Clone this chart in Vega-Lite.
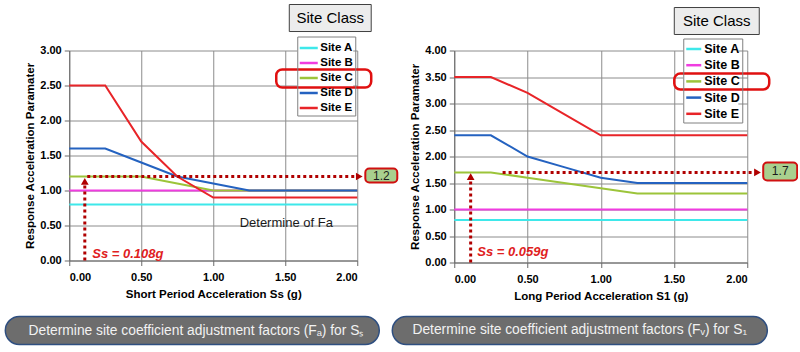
{
  "$schema": "https://vega.github.io/schema/vega-lite/v6.json",
  "padding": {"left": 4.25, "top": 3.5, "right": 0, "bottom": 0},
  "bounds": "flush",
  "spacing": 97,
  "datasets": {
    "fa": [
      {"site": "Site A", "x": 0, "y": 0.8}, {"site": "Site A", "x": 2, "y": 0.8},
      {"site": "Site B", "x": 0, "y": 1.0}, {"site": "Site B", "x": 2, "y": 1.0},
      {"site": "Site C", "x": 0, "y": 1.2}, {"site": "Site C", "x": 0.25, "y": 1.2}, {"site": "Site C", "x": 0.5, "y": 1.2}, {"site": "Site C", "x": 0.75, "y": 1.1}, {"site": "Site C", "x": 1.0, "y": 1.0}, {"site": "Site C", "x": 1.25, "y": 1.0}, {"site": "Site C", "x": 2, "y": 1.0},
      {"site": "Site D", "x": 0, "y": 1.6}, {"site": "Site D", "x": 0.25, "y": 1.6}, {"site": "Site D", "x": 0.5, "y": 1.4}, {"site": "Site D", "x": 0.75, "y": 1.2}, {"site": "Site D", "x": 1.0, "y": 1.1}, {"site": "Site D", "x": 1.25, "y": 1.0}, {"site": "Site D", "x": 2, "y": 1.0},
      {"site": "Site E", "x": 0, "y": 2.5}, {"site": "Site E", "x": 0.25, "y": 2.5}, {"site": "Site E", "x": 0.5, "y": 1.7}, {"site": "Site E", "x": 0.75, "y": 1.2}, {"site": "Site E", "x": 1.0, "y": 0.9}, {"site": "Site E", "x": 1.25, "y": 0.9}, {"site": "Site E", "x": 2, "y": 0.9}
    ],
    "fv": [
      {"site": "Site A", "x": 0, "y": 0.8}, {"site": "Site A", "x": 2, "y": 0.8},
      {"site": "Site B", "x": 0, "y": 1.0}, {"site": "Site B", "x": 2, "y": 1.0},
      {"site": "Site C", "x": 0, "y": 1.7}, {"site": "Site C", "x": 0.25, "y": 1.7}, {"site": "Site C", "x": 0.5, "y": 1.6}, {"site": "Site C", "x": 0.75, "y": 1.5}, {"site": "Site C", "x": 1.0, "y": 1.4}, {"site": "Site C", "x": 1.25, "y": 1.3}, {"site": "Site C", "x": 2, "y": 1.3},
      {"site": "Site D", "x": 0, "y": 2.4}, {"site": "Site D", "x": 0.25, "y": 2.4}, {"site": "Site D", "x": 0.5, "y": 2.0}, {"site": "Site D", "x": 0.75, "y": 1.8}, {"site": "Site D", "x": 1.0, "y": 1.6}, {"site": "Site D", "x": 1.25, "y": 1.5}, {"site": "Site D", "x": 2, "y": 1.5},
      {"site": "Site E", "x": 0, "y": 3.5}, {"site": "Site E", "x": 0.25, "y": 3.5}, {"site": "Site E", "x": 0.5, "y": 3.2}, {"site": "Site E", "x": 0.75, "y": 2.8}, {"site": "Site E", "x": 1.0, "y": 2.4}, {"site": "Site E", "x": 1.25, "y": 2.4}, {"site": "Site E", "x": 2, "y": 2.4}
    ]
  },
  "resolve": {"scale": {"color": "independent"}, "legend": {"color": "independent"}},
  "hconcat": [
    {
      "width": 288,
      "height": 210,
      "encoding": {
        "x": {"field": "x", "type": "quantitative", "scale": {"domain": [0, 2], "nice": false, "zero": false},
              "axis": {"title": "Short Period Acceleration Ss (g)", "values": [0, 0.5, 1, 1.5, 2], "format": ".2f"}},
        "y": {"field": "y", "type": "quantitative", "scale": {"domain": [0, 3], "nice": false, "zero": false},
              "axis": {"title": "Response Acceleration Paramater", "values": [0, 0.5, 1, 1.5, 2, 2.5, 3], "format": ".2f"}}
      },
      "layer": [
        {"data": {"values": [{"x": 1.583, "x2": 1.972, "y": 3.186, "y2": 2.043}]},
         "mark": {"type": "rect", "fill": "white"},
         "encoding": {"x2": {"field": "x2"}, "y2": {"field": "y2"}}},
        {"data": {"name": "fa"},
         "mark": {"type": "line", "strokeWidth": 2},
         "encoding": {
           "color": {"field": "site", "type": "nominal",
             "scale": {"domain": ["Site A", "Site B", "Site C", "Site D", "Site E"], "range": ["#3ee8ea", "#f03ce0", "#9cc43a", "#2462c0", "#e82428"]},
             "legend": {"orient": "none", "legendX": 228, "legendY": -14, "title": null, "symbolType": "M-1.125,0L1.125,0", "symbolSize": 256, "symbolStrokeWidth": 2.5, "labelFont": "Liberation Sans", "labelFontSize": 11.5, "labelFontWeight": "bold", "labelColor": "#000000", "strokeColor": "#808080", "padding": 2, "rowPadding": -0.3, "labelOffset": 2}
           }
         }},
        {"data": {"values": [{"x": 1.528, "x2": 2.097, "y": 3.657, "y2": 3.271}]},
         "mark": {"type": "rect", "fill": "#ececec", "stroke": "#404040", "strokeWidth": 1},
         "encoding": {"x2": {"field": "x2"}, "y2": {"field": "y2"}}},
        {"data": {"values": [{"x": 1.8125, "y": 3.464, "label": "Site Class"}]},
         "mark": {"type": "text", "font": "Liberation Sans", "fontSize": 15, "color": "#000000", "baseline": "middle", "align": "center"},
         "encoding": {"text": {"field": "label"}}},
        {"data": {"values": [{"x": 1.4375, "x2": 2.097, "y": 2.729, "y2": 2.471}]},
         "mark": {"type": "rect", "fill": "transparent", "stroke": "#e01010", "strokeWidth": 2.5, "cornerRadius": 6},
         "encoding": {"x2": {"field": "x2"}, "y2": {"field": "y2"}}},
        {"data": {"values": [{"x": 0.108, "x2": 0.108, "y": 0, "y2": 1.13}, {"x": 0.125, "x2": 1.985, "y": 1.2, "y2": 1.2}]},
         "mark": {"type": "rule", "color": "#b00000", "strokeWidth": 3, "strokeDash": [3, 3]},
         "encoding": {"x2": {"field": "x2"}, "y2": {"field": "y2"}}},
        {"data": {"values": [{"x": 0.108, "y": 1.13}]},
         "mark": {"type": "point", "shape": "triangle-up", "filled": true, "color": "#b00000", "size": 60, "opacity": 1},
         "encoding": {}},
        {"data": {"values": [{"x": 2.014, "y": 1.2}]},
         "mark": {"type": "point", "shape": "triangle-right", "filled": true, "color": "#b00000", "size": 60, "opacity": 1},
         "encoding": {}},
        {"data": {"values": [{"x": 2.056, "x2": 2.278, "y": 1.314, "y2": 1.114}]},
         "mark": {"type": "rect", "fill": "#a9d08e", "stroke": "#d01010", "strokeWidth": 2, "cornerRadius": 4},
         "encoding": {"x2": {"field": "x2"}, "y2": {"field": "y2"}}},
        {"data": {"values": [{"x": 2.167, "y": 1.214, "label": "1.2"}]},
         "mark": {"type": "text", "font": "Liberation Sans", "fontSize": 12, "color": "#1a1a1a", "baseline": "middle", "align": "center"},
         "encoding": {"text": {"field": "label"}}},
        {"data": {"values": [{"x": 0.16, "y": 0.1, "label": "Ss = 0.108g"}]},
         "mark": {"type": "text", "font": "Liberation Sans", "fontSize": 13, "fontWeight": "bold", "fontStyle": "italic", "color": "#e02020", "baseline": "middle", "align": "left"},
         "encoding": {"text": {"field": "label"}}},
        {"data": {"values": [{"x": 1.507, "y": 0.529, "label": "Determine of Fa"}]},
         "mark": {"type": "text", "font": "Liberation Sans", "fontSize": 13, "color": "#1a1a1a", "baseline": "middle", "align": "center"},
         "encoding": {"text": {"field": "label"}}},
        {"data": {"values": [{"x": -0.444, "x2": 2.153, "y": -0.8, "y2": -1.2}]},
         "mark": {"type": "rect", "fill": "#6d6d6d", "stroke": "#2f4f80", "strokeWidth": 1.5, "cornerRadius": 14},
         "encoding": {"x2": {"field": "x2"}, "y2": {"field": "y2"}}},
        {"data": {"values": [{"x": 0.88, "y": -1.0, "label": "Determine site coefficient adjustment factors (Fₐ) for Sₛ"}]},
         "mark": {"type": "text", "font": "Liberation Sans", "fontSize": 13.8, "color": "#f2f2f2", "baseline": "middle", "align": "center"},
         "encoding": {"text": {"field": "label"}}}
      ]
    },
    {
      "width": 293,
      "height": 212,
      "encoding": {
        "x": {"field": "x", "type": "quantitative", "scale": {"domain": [0, 2], "nice": false, "zero": false},
              "axis": {"title": "Long Period Acceleration S1 (g)", "values": [0, 0.5, 1, 1.5, 2], "format": ".2f"}},
        "y": {"field": "y", "type": "quantitative", "scale": {"domain": [0, 4], "nice": false, "zero": false},
              "axis": {"title": "Response Acceleration Paramater", "values": [0, 0.5, 1, 1.5, 2, 2.5, 3, 3.5, 4], "format": ".2f"}}
      },
      "layer": [
        {"data": {"values": [{"x": 1.563, "x2": 1.939, "y": 4.208, "y2": 2.642}]},
         "mark": {"type": "rect", "fill": "white"},
         "encoding": {"x2": {"field": "x2"}, "y2": {"field": "y2"}}},
        {"data": {"name": "fv"},
         "mark": {"type": "line", "strokeWidth": 2},
         "encoding": {
           "color": {"field": "site", "type": "nominal",
             "scale": {"domain": ["Site A", "Site B", "Site C", "Site D", "Site E"], "range": ["#3ee8ea", "#f03ce0", "#9cc43a", "#2462c0", "#e82428"]},
             "legend": {"orient": "none", "legendX": 229, "legendY": -12, "title": null, "symbolType": "M-1.07,0L1.07,0", "symbolSize": 196, "symbolStrokeWidth": 2.5, "labelFont": "Liberation Sans", "labelFontSize": 12.5, "labelFontWeight": "bold", "labelColor": "#000000", "strokeColor": "#808080", "padding": 2, "rowPadding": 1.2, "labelOffset": 2}
           }
         }},
        {"data": {"values": [{"x": 1.502, "x2": 2.082, "y": 4.811, "y2": 4.302}]},
         "mark": {"type": "rect", "fill": "#ececec", "stroke": "#404040", "strokeWidth": 1},
         "encoding": {"x2": {"field": "x2"}, "y2": {"field": "y2"}}},
        {"data": {"values": [{"x": 1.792, "y": 4.557, "label": "Site Class"}]},
         "mark": {"type": "text", "font": "Liberation Sans", "fontSize": 15, "color": "#000000", "baseline": "middle", "align": "center"},
         "encoding": {"text": {"field": "label"}}},
        {"data": {"values": [{"x": 1.502, "x2": 2.15, "y": 3.566, "y2": 3.264}]},
         "mark": {"type": "rect", "fill": "transparent", "stroke": "#e01010", "strokeWidth": 2.5, "cornerRadius": 6},
         "encoding": {"x2": {"field": "x2"}, "y2": {"field": "y2"}}},
        {"data": {"values": [{"x": 0.112, "x2": 0.112, "y": 0, "y2": 1.62}, {"x": 0.33, "x2": 2.05, "y": 1.7, "y2": 1.7}]},
         "mark": {"type": "rule", "color": "#b00000", "strokeWidth": 3, "strokeDash": [3, 3]},
         "encoding": {"x2": {"field": "x2"}, "y2": {"field": "y2"}}},
        {"data": {"values": [{"x": 0.112, "y": 1.62}]},
         "mark": {"type": "point", "shape": "triangle-up", "filled": true, "color": "#b00000", "size": 60, "opacity": 1},
         "encoding": {}},
        {"data": {"values": [{"x": 2.07, "y": 1.7}]},
         "mark": {"type": "point", "shape": "triangle-right", "filled": true, "color": "#b00000", "size": 60, "opacity": 1},
         "encoding": {}},
        {"data": {"values": [{"x": 2.109, "x2": 2.341, "y": 1.887, "y2": 1.547}]},
         "mark": {"type": "rect", "fill": "#a9d08e", "stroke": "#d01010", "strokeWidth": 2, "cornerRadius": 4},
         "encoding": {"x2": {"field": "x2"}, "y2": {"field": "y2"}}},
        {"data": {"values": [{"x": 2.225, "y": 1.717, "label": "1.7"}]},
         "mark": {"type": "text", "font": "Liberation Sans", "fontSize": 12, "color": "#1a1a1a", "baseline": "middle", "align": "center"},
         "encoding": {"text": {"field": "label"}}},
        {"data": {"values": [{"x": 0.157, "y": 0.19, "label": "Ss = 0.059g"}]},
         "mark": {"type": "text", "font": "Liberation Sans", "fontSize": 13, "fontWeight": "bold", "fontStyle": "italic", "color": "#e02020", "baseline": "middle", "align": "left"},
         "encoding": {"text": {"field": "label"}}},
        {"data": {"values": [{"x": -0.423, "x2": 2.137, "y": -1.019, "y2": -1.547}]},
         "mark": {"type": "rect", "fill": "#6d6d6d", "stroke": "#2f4f80", "strokeWidth": 1.5, "cornerRadius": 14},
         "encoding": {"x2": {"field": "x2"}, "y2": {"field": "y2"}}},
        {"data": {"values": [{"x": 0.857, "y": -1.283, "label": "Determine site coefficient adjustment factors (Fᵥ) for S₁"}]},
         "mark": {"type": "text", "font": "Liberation Sans", "fontSize": 13.8, "color": "#f2f2f2", "baseline": "middle", "align": "center"},
         "encoding": {"text": {"field": "label"}}}
      ]
    }
  ],
  "config": {
    "font": "Liberation Sans",
    "view": {"stroke": null},
    "axis": {
      "labelFont": "Liberation Sans", "labelFontWeight": "bold", "labelFontSize": 11, "labelColor": "#000000",
      "titleFont": "Liberation Sans", "titleFontWeight": "bold", "titleFontSize": 11.5, "titleColor": "#000000",
      "gridColor": "#8c8c8c", "gridOpacity": 1, "gridWidth": 1,
      "domainColor": "#6a6a6a", "tickColor": "#6a6a6a", "tickSize": 5
    },
    "axisX": {"labelPadding": 6, "titlePadding": 6},
    "axisY": {"labelPadding": 3, "titlePadding": 4}
  }
}
